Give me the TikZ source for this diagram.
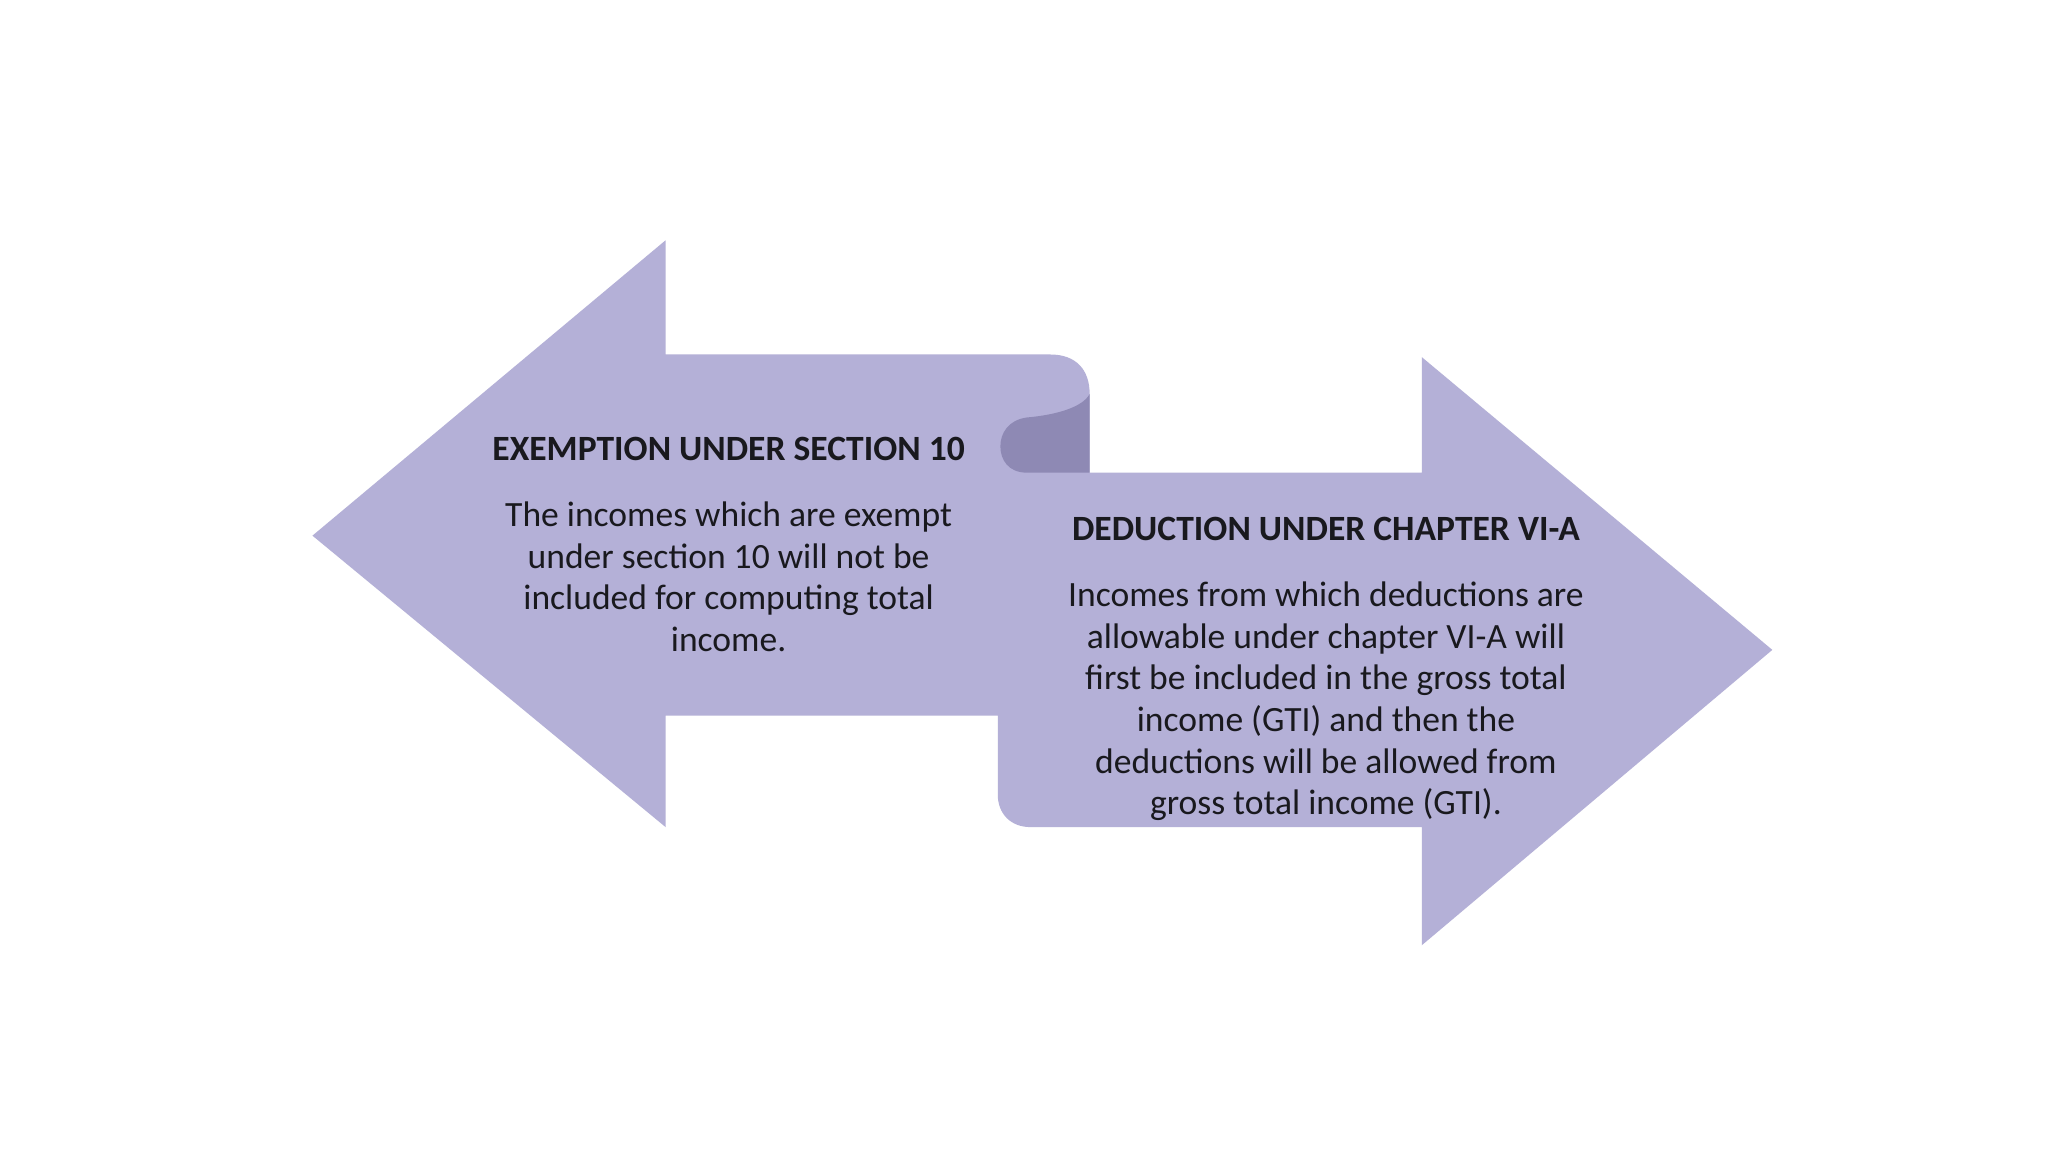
\documentclass[tikz,border=0pt]{standalone}
\usepackage{fontspec}
\setmainfont{Carlito}
\definecolor{lav}{RGB}{180,176,215}
\definecolor{lavd}{RGB}{142,137,180}
\definecolor{txt}{RGB}{25,25,30}
\begin{document}
\begin{tikzpicture}[x=0.01cm,y=-0.01cm,
  body/.style={align=center,text=txt,font=\fontsize{7.7}{9}\selectfont},
  head/.style={text=txt,font=\bfseries\fontsize{7.7}{9}\selectfont}]
\useasboundingbox[fill=white] (0,0) rectangle (1560,877.5);
\fill[lav] (238,408) -- (507,183) -- (507,270) -- (800,270)
  .. controls (820,270) and (830,282) .. (830,300) -- (830,360) -- (1083,360)
  -- (1083,272) -- (1350,495) -- (1083,720) -- (1083,630) -- (785,630)
  .. controls (770,630) and (760,620) .. (760,605) -- (760,545) -- (507,545)
  -- (507,630) -- cycle;
\fill[lavd] (830,360) -- (782,360) .. controls (768,360) and (762,350) .. (762,340)
  .. controls (762,330) and (768,320) .. (782,318) .. controls (805,316) and (825,310) .. (830,300) -- cycle;
\node[head] (h1) at (555,342) {EXEMPTION UNDER SECTION 10};
\node[body,anchor=north] (b1) at (555,370) {The incomes which are exempt\\under section 10 will not be\\included for computing total\\income.};
\node[head] (h2) at (1010,403) {DEDUCTION UNDER CHAPTER VI-A};
\node[body,anchor=north] (b2) at (1010,431) {Incomes from which deductions are\\allowable under chapter VI-A will\\first be included in the gross total\\income (GTI) and then the\\deductions will be allowed from\\gross total income (GTI).};
\end{tikzpicture}
\end{document}
